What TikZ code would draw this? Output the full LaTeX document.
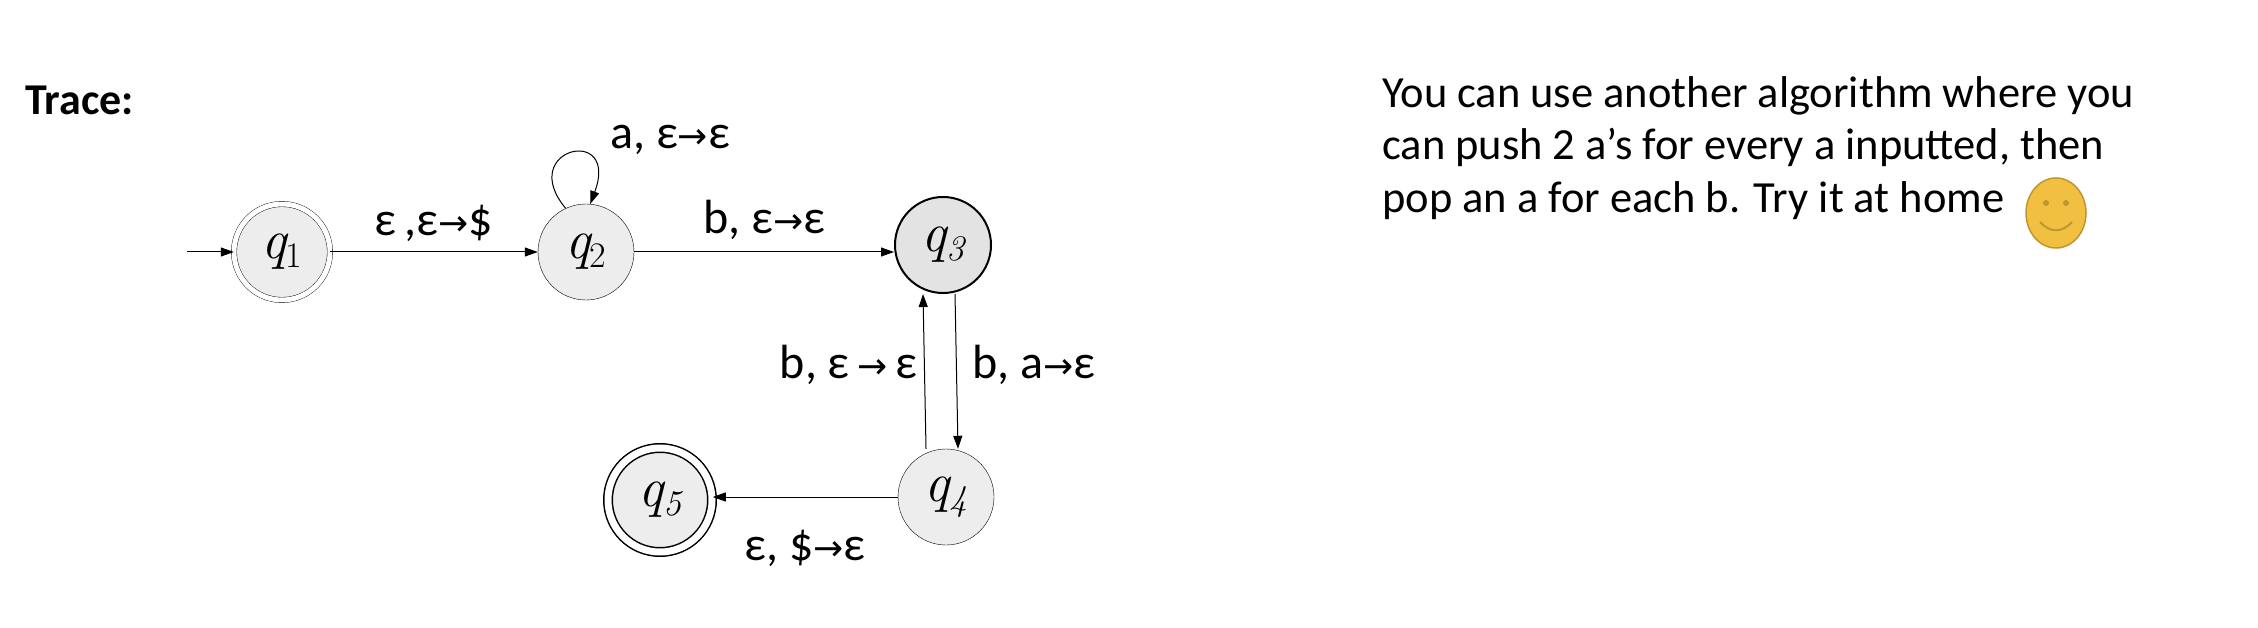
\documentclass[tikz,border=0pt]{standalone}
\usepackage{fontspec}
\setmainfont{Carlito}
\newfontfamily\lmr{Latin Modern Roman}
\newfontfamily\djv{DejaVu Sans}
\usetikzlibrary{arrows.meta,shapes.geometric}
\definecolor{smy}{RGB}{242,192,64}
\definecolor{smd}{RGB}{190,150,50}
\newcommand{\qq}[1]{{\lmr\itshape q\kern-1pt\raisebox{-9pt}{\fontsize{36}{36}\selectfont #1}}}
\newcommand{\ar}{{\djv\fontsize{36}{36}\selectfont →}}
\begin{document}
\begin{tikzpicture}[x=1pt,y=-1pt,
 st/.style={circle,draw,fill=black!7,minimum size=96pt,inner sep=0pt,font=\fontsize{56}{56}\selectfont},
 lab/.style={font=\fontsize{48}{50}\selectfont,inner sep=0pt},
 ed/.style={-{Triangle[length=13pt,width=9pt]},line width=1pt}]
\useasboundingbox (0,0) rectangle (2258,628);
\node[lab,anchor=west,font=\fontsize{44}{46}\selectfont\bfseries] (tr) at (25,100) {Trace:};
\node[st,double,double distance=5pt] (q1) at (282,252) {\qq{\upshape 1}};
\node[st] (q2) at (586,252) {\qq{\upshape 2}};
\node[st,fill=black!11,line width=2pt] (q3) at (943,245) {\qq{3}};
\node[st] (q4) at (946,497) {\qq{4}};
\node[st,minimum size=104pt,double,line width=1.5pt,double distance=7pt] (q5) at (660,500) {\qq{5}};
\coordinate (s) at (187,252);
\draw[ed] (s) -- (q1);
\draw[ed] (q1) -- node[lab,above=10pt]{ε\,,ε\ar\$} (q2);
\draw[ed] (q2) -- node[lab,above=12pt]{b, ε\ar ε} (q2-|q3.west);
\draw[ed] (q2.115) .. controls +(-50,-60) and +(30,-80) .. (q2.85);
\node[lab,anchor=west] (l2) at (610,140) {a, ε\ar ε};
\draw[ed] ([xshift=12pt]q3.south) -- ([xshift=12pt]q4.north);
\draw[ed] ([xshift=-20pt]q4.north) -- ([xshift=-20pt]q3.south);
\node[lab,anchor=east] (l3) at (918,365) {b, ε\,\ar\,ε};
\node[lab,anchor=west] (l4) at (972,365) {b, a\ar ε};
\draw[ed] (q4.west) -- (q4.west-|q5.east);
\node[lab] (l5) at (805,548) {ε, \$\ar ε};
\node[anchor=north west,align=left,inner sep=0pt,font=\fontsize{44.5}{52.5}\selectfont] (tx) at (1382,76)
 {You can use another algorithm where you\\can push 2 a’s for every a inputted, then\\pop an a for each b. Try it at home};
\node[ellipse,draw=smd,fill=smy,line width=1.5pt,minimum width=60pt,minimum height=70pt,inner sep=0pt] (sm) at (2056,213) {};
\fill[smd] (2046,203) circle (3) (2066,203) circle (3);
\draw[smd,line width=2pt] (2040,222) .. controls (2050,233) and (2062,233) .. (2072,222);
\end{tikzpicture}
\end{document}
